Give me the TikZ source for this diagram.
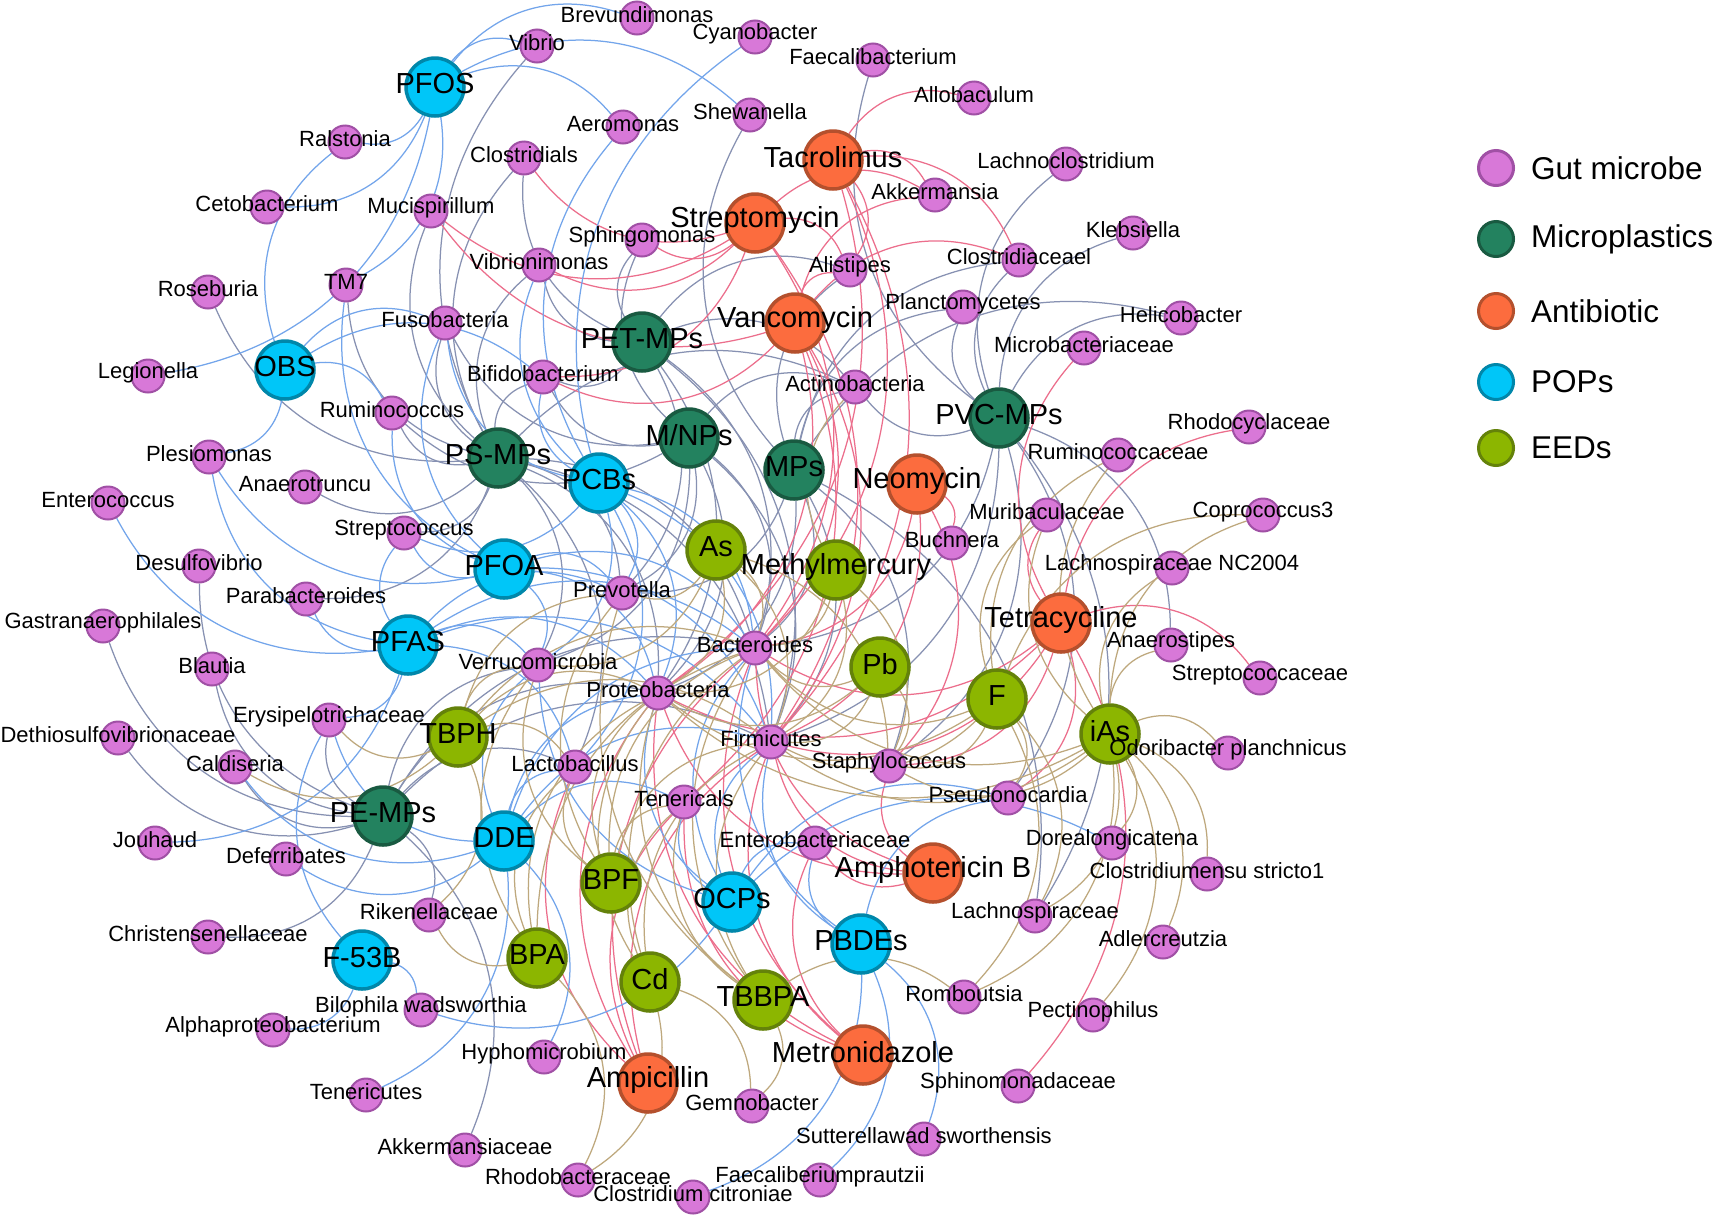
\documentclass[tikz,border=0pt]{standalone}
\usepackage{fontspec}
\setmainfont{Liberation Sans}
\pgfdeclarelayer{edgelayer}
\pgfdeclarelayer{textlayer}
\pgfsetlayers{edgelayer,main,textlayer}
\definecolor{gmF}{RGB}{216,120,216}\definecolor{gmD}{RGB}{160,80,165}
\definecolor{mpF}{RGB}{35,130,95}\definecolor{mpD}{RGB}{25,90,65}
\definecolor{abF}{RGB}{252,108,62}\definecolor{abD}{RGB}{180,80,45}
\definecolor{poF}{RGB}{0,198,248}\definecolor{poD}{RGB}{0,135,170}
\definecolor{edF}{RGB}{140,182,0}\definecolor{edD}{RGB}{100,130,10}
\definecolor{eMP}{RGB}{135,145,178}
\definecolor{eAB}{RGB}{236,110,140}
\definecolor{ePO}{RGB}{115,165,235}
\definecolor{eED}{RGB}{190,168,125}
\tikzset{
  smallnode/.style={circle,inner sep=0pt,minimum size=33pt,line width=2pt},
  bignode/.style={circle,inner sep=0pt,minimum size=58pt,line width=3.5pt},
  gm/.style={smallnode,fill=gmF,draw=gmD},
  mp/.style={bignode,fill=mpF,draw=mpD},
  ab/.style={bignode,fill=abF,draw=abD},
  po/.style={bignode,fill=poF,draw=poD},
  ed/.style={bignode,fill=edF,draw=edD},
  lbs/.style={font=\fontsize{22}{22}\selectfont,inner sep=0pt,yshift=3pt},
  lbb/.style={font=\fontsize{29}{29}\selectfont,inner sep=0pt,yshift=3pt},
  edgebase/.style={line width=1.25pt,bend left=35},
  emp/.style={edgebase,draw=eMP},
  eab/.style={edgebase,draw=eAB},
  epo/.style={edgebase,draw=ePO},
  eed/.style={edgebase,draw=eED},
  legc/.style={circle,inner sep=0pt,minimum size=35pt,line width=3pt},
  legt/.style={font=\fontsize{31.5}{31.5}\selectfont,inner sep=0pt,anchor=west}
}
\def\mnplabel{M/NPs}
\def\GMlist{brev/637/18/Brevundimonas, vibrio/537/46/Vibrio, cyano/755/37/Cyanobacter,
 faecal/873/60/Faecalibacterium, allob/974/98/Allobaculum, shew/750/115/Shewanella,
 aero/623/127/Aeromonas, ralst/345/142/Ralstonia, clostls/524/158/Clostridials,
 lachcl/1066/164/Lachnoclostridium, akk/935/195/Akkermansia, ceto/267/207/Cetobacterium,
 mucis/431/211/Mucispirillum, klebs/1133/233/Klebsiella, sphingo/642/240/Sphingomonas,
 vibrion/539/265/Vibrionimonas, alist/850/270/Alistipes, clostcl/1019/260/Clostridiaceael,
 roseb/208/292/Roseburia, tm7/346/285/TM7, plancto/963/307/Planctomycetes,
 fuso/445/323/Fusobacteria, helico/1181/318/Helicobacter, microbac/1084/348/Microbacteriaceae,
 legio/148/376/Legionella, bifido/543/377/Bifidobacterium, actino/855/387/Actinobacteria,
 rumino/392/413/Ruminococcus, rhodocy/1249/427/Rhodocyclaceae, plesio/209/457/Plesiomonas,
 ruminac/1118/455/Ruminococcaceae, anaerot/305/487/Anaerotruncu, entero/108/503/Enterococcus,
 murib/1047/515/Muribaculaceae, copro/1263/515/Coprococcus3, strepto/404/533/Streptococcus,
 buchn/952/543/Buchnera, desulfo/199/566/Desulfovibrio, lachnc/1172/568/Lachnospiraceae NC2004,
 parab/306/599/Parabacteroides, prevo/622/593/Prevotella, gastr/103/626/Gastranaerophilales,
 bacter/755/648/Bacteroides, anaeros/1171/645/Anaerostipes, blautia/212/669/Blautia,
 verruc/538/665/Verrucomicrobia, streptoc/1260/678/Streptococcaceae, proteo/658/693/Proteobacteria,
 erysip/329/720/Erysipelotrichaceae, dethio/118/738/Dethiosulfovibrionaceae, firmi/771/742/Firmicutes,
 odori/1228/753/Odoribacter planchnicus, staph/889/766/Staphylococcus, caldi/235/767/Caldiseria,
 lacto/575/767/Lactobacillus, pseudo/1008/798/Pseudonocardia, tenerc/684/802/Tenericals,
 jouh/155/843/Jouhaud, dorea/1112/843/Dorealongicatena, deferr/286/859/Deferribates,
 enterob/815/843/Enterobacteriaceae, clostss/1207/874/Clostridiumensu stricto1,
 riken/429/915/Rikenellaceae, lachno/1035/916/Lachnospiraceae, christ/208/937/Christensenellaceae,
 adler/1163/942/Adlercreutzia, rombo/964/997/Romboutsia, biloph/421/1010/Bilophila wadsworthia,
 pectino/1093/1015/Pectinophilus, alpha/273/1030/Alphaproteobacterium, hypho/544/1057/Hyphomicrobium,
 sphino/1018/1086/Sphinomonadaceae, gemno/752/1106/Gemnobacter, tenerut/366/1095/Tenericutes,
 sutter/924/1139/Sutterellawad sworthensis, akkac/465/1150/Akkermansiaceae,
 rhodob/578/1180/Rhodobacteraceae, faecpr/820/1180/Faecaliberiumprautzii, clcit/693/1197/Clostridium citroniae}
\def\MPlist{petmp/642/342/PET-MPs, pvcmp/999/418/PVC-MPs, mnp/689/438/\mnplabel,
 psmp/498/458/PS-MPs, mps/794/470/MPs, pemp/383/816/PE-MPs}
\def\ABlist{tacro/833/160/Tacrolimus, streptm/755/223/Streptomycin, vanco/795/323/Vancomycin,
 neo/917/484/Neomycin, tetra/1061/623/Tetracycline, ampho/933/873/Amphotericin B,
 metro/863/1055/Metronidazole, ampi/648/1083/Ampicillin}
\def\POlist{pfos/435/87/PFOS, obs/285/370/OBS, pcbs/599/483/PCBs, pfoa/504/569/PFOA,
 pfas/408/645/PFAS, dde/504/841/DDE, ocps/732/902/OCPs, pbde/861/944/PBDEs, fb/362/960/F-53B}
\def\EDlist{as/716/550/As, mehg/836/570/Methylmercury, pb/880/667/Pb, fl/997/699/F,
 ias/1110/734/iAs, tbph/458/737/TBPH, bpf/611/883/BPF, bpa/537/958/BPA, cd/650/982/Cd,
 tbbpa/763/1000/TBBPA}
\begin{document}
\begin{tikzpicture}[x=1pt,y=-1pt]
\useasboundingbox (0,0) rectangle (1715,1216);
% nodes
\foreach \n/\x/\y/\l in \GMlist {\node[gm] (\n) at (\x,\y) {};}
\foreach \n/\x/\y/\l in \MPlist {\node[mp] (\n) at (\x,\y) {};}
\foreach \n/\x/\y/\l in \ABlist {\node[ab] (\n) at (\x,\y) {};}
\foreach \n/\x/\y/\l in \POlist {\node[po] (\n) at (\x,\y) {};}
\foreach \n/\x/\y/\l in \EDlist {\node[ed] (\n) at (\x,\y) {};}
% edges
\begin{pgfonlayer}{edgelayer}
\fill[white] (0,0) rectangle (1715,1216);
\foreach \t in {vibrio,roseb,rumino,anaerot,strepto,parab,fuso,bifido,clostls,mucis,vibrion,prevo,bacter,proteo,firmi,verruc,lacto,actino,tm7} \draw[emp] (psmp) to (\t);
\foreach \t in {gastr,blautia,desulfo,dethio,christ,akkac,riken,caldi,erysip,verruc,proteo,bacter,firmi,lacto} \draw[emp] (pemp) to (\t);
\foreach \t in {sphingo,vibrion,bifido,alist,bacter,firmi,proteo,actino,prevo,clostls} \draw[emp] (petmp) to (\t);
\foreach \t in {bifido,prevo,bacter,firmi,proteo,verruc,actino,rumino,fuso,sphingo} \draw[emp] (mnp) to (\t);
\foreach \t in {shew,plancto,actino,bacter,firmi,proteo,prevo,helico,clostcl,alist,staph,lachno} \draw[emp] (mps) to (\t);
\foreach \t in {faecal,lachcl,klebs,helico,plancto,anaeros,lachno,actino,bacter,firmi,staph,clostcl,pseudo} \draw[emp] (pvcmp) to (\t);
\foreach \t in {allob,akk,alist,clostcl,bacter,firmi,proteo} \draw[eab] (tacro) to (\t);
\foreach \t in {mucis,clostls,sphingo,akk,alist,bifido,bacter,firmi,vibrion} \draw[eab] (streptm) to (\t);
\foreach \t in {mucis,bifido,alist,akk,bacter,firmi,proteo,tenerc,clostcl} \draw[eab] (vanco) to (\t);
\foreach \t in {buchn,bacter,firmi,staph} \draw[eab] (neo) to (\t);
\foreach \t in {microbac,rhodocy,streptoc,bacter,firmi,staph,pseudo,sphino,murib,proteo} \draw[eab] (tetra) to (\t);
\foreach \t in {enterob,firmi,staph,bacter,proteo} \draw[eab] (ampho) to (\t);
\foreach \t in {firmi,bacter,tenerc,proteo,enterob} \draw[eab] (metro) to (\t);
\foreach \t in {proteo,firmi,bacter,tenerc,lacto} \draw[eab] (ampi) to (\t);
\foreach \t in {vibrio,brev,shew,aero,ralst,ceto,tm7,legio} \draw[epo] (pfos) to (\t);
\foreach \t in {ralst,fuso,plesio,rumino,bifido} \draw[epo] (obs) to (\t);
\foreach \t in {entero,plesio,parab,strepto,verruc,proteo,bacter,prevo,firmi,lacto,erysip,jouh} \draw[epo] (pfas) to (\t);
\foreach \t in {strepto,tm7,fuso,rumino,prevo,bacter,verruc,proteo,firmi,plesio} \draw[epo] (pfoa) to (\t);
\foreach \t in {cyano,aero,fuso,bifido,prevo,bacter,proteo,firmi,verruc,vibrion,strepto,lacto} \draw[epo] (pcbs) to (\t);
\foreach \t in {deferr,caldi,erysip,lacto,verruc,proteo,bacter,hypho,tenerc,firmi,tenerut} \draw[epo] (dde) to (\t);
\foreach \t in {alpha,biloph,erysip} \draw[epo] (fb) to (\t);
\foreach \t in {enterob,pseudo,firmi,proteo,bacter,tenerc,dorea,biloph,verruc} \draw[epo] (ocps) to (\t);
\foreach \t in {sutter,faecpr,clcit,pseudo,enterob,firmi,bacter} \draw[epo] (pbde) to (\t);
\foreach \t in {erysip,verruc,proteo,lacto,bacter,prevo,firmi,riken,caldi} \draw[eed] (tbph) to (\t);
\foreach \t in {bacter,firmi,proteo,prevo,staph,verruc} \draw[eed] (as) to (\t);
\foreach \t in {actino,bacter,firmi,proteo,staph} \draw[eed] (mehg) to (\t);
\foreach \t in {bacter,firmi,proteo,staph} \draw[eed] (pb) to (\t);
\foreach \t in {murib,ruminac,copro,bacter,firmi,proteo,staph,lachno,rombo,pseudo} \draw[eed] (fl) to (\t);
\foreach \t in {lachnc,copro,murib,ruminac,dorea,clostss,adler,pectino,rombo,odori,firmi,bacter,staph,lachno,anaeros,proteo} \draw[eed] (ias) to (\t);
\foreach \t in {tenerc,lacto,proteo,bacter,firmi,verruc,prevo} \draw[eed] (bpf) to (\t);
\foreach \t in {lacto,rhodob,proteo,verruc,riken,bacter} \draw[eed] (bpa) to (\t);
\foreach \t in {gemno,proteo,bacter,firmi,tenerc,rhodob} \draw[eed] (cd) to (\t);
\foreach \t in {gemno,rombo,firmi,bacter,proteo,tenerc,prevo} \draw[eed] (tbbpa) to (\t);
\end{pgfonlayer}
% labels
\begin{pgfonlayer}{textlayer}
\foreach \n/\x/\y/\l in \GMlist {\node[lbs] (\n-t) at (\n) {\l};}
\foreach \n/\x/\y/\l in \MPlist {\node[lbb] (\n-t) at (\n) {\l};}
\foreach \n/\x/\y/\l in \ABlist {\node[lbb] (\n-t) at (\n) {\l};}
\foreach \n/\x/\y/\l in \POlist {\node[lbb] (\n-t) at (\n) {\l};}
\foreach \n/\x/\y/\l in \EDlist {\node[lbb] (\n-t) at (\n) {\l};}
\end{pgfonlayer}
% legend
\node[legc,fill=gmF,draw=gmD] (lg1) at (1496,168) {};
\node[legc,fill=mpF,draw=mpD] (lg2) at (1496,239) {};
\node[legc,fill=abF,draw=abD] (lg3) at (1496,311) {};
\node[legc,fill=poF,draw=poD] (lg4) at (1496,382) {};
\node[legc,fill=edF,draw=edD] (lg5) at (1496,448) {};
\node[legt] (lt1) at (1531,168) {Gut microbe};
\node[legt] (lt2) at (1531,239) {Microplastics};
\node[legt] (lt3) at (1531,311) {Antibiotic};
\node[legt] (lt4) at (1531,382) {POPs};
\node[legt] (lt5) at (1531,448) {EEDs};
\end{tikzpicture}
\end{document}
